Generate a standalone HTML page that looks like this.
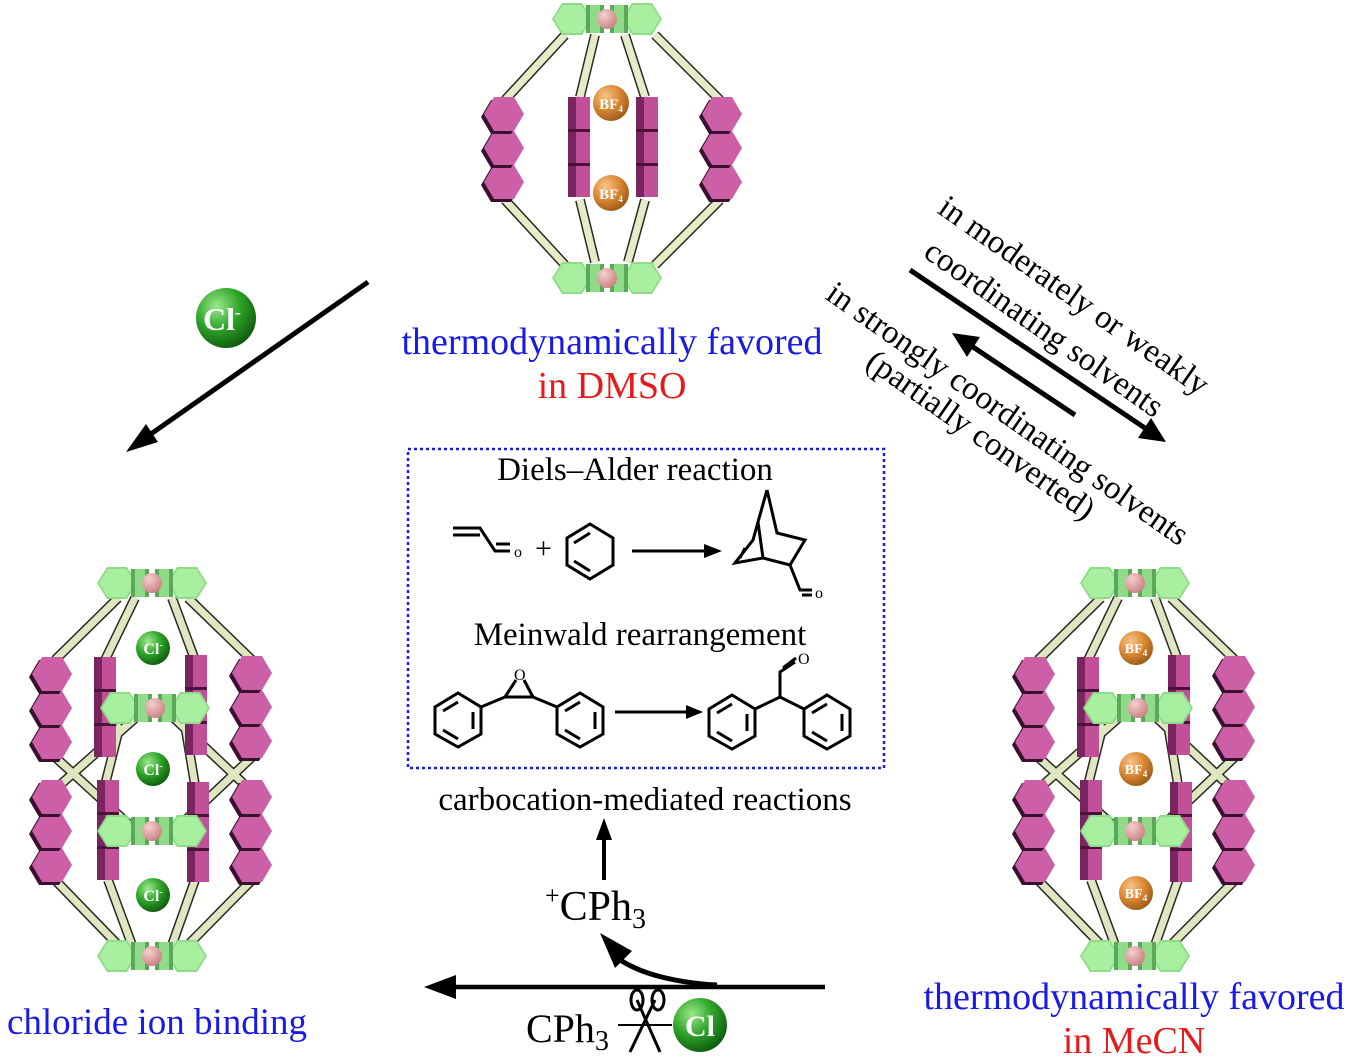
<!DOCTYPE html>
<html><head><meta charset="utf-8"><style>
html,body{margin:0;padding:0;background:#fff;}
svg{display:block;}
text{font-family:"Liberation Serif",serif;}
</style></head><body>
<svg width="1350" height="1060" viewBox="0 0 1350 1060" xmlns="http://www.w3.org/2000/svg">
<defs>
<radialGradient id="gg" cx="35%" cy="30%" r="75%"><stop offset="0" stop-color="#9be88a"/><stop offset="0.5" stop-color="#2fa52a"/><stop offset="1" stop-color="#0d5a0d"/></radialGradient>
<radialGradient id="og" cx="35%" cy="30%" r="75%"><stop offset="0" stop-color="#f7c48a"/><stop offset="0.5" stop-color="#dd8a35"/><stop offset="1" stop-color="#9a5a18"/></radialGradient>
<radialGradient id="pg" cx="35%" cy="30%" r="75%"><stop offset="0" stop-color="#f6d0d0"/><stop offset="1" stop-color="#c98080"/></radialGradient>
<g id="phex"><polygon points="-3,20 7,3 27,3 37,20 27,37 7,37" fill="#3a1030"/><polygon points="0,17 10,0 30,0 40,17 30,34 10,34" fill="#cc5fa5"/></g>
<g id="pcol"><use href="#phex" y="68"/><use href="#phex" y="34"/><use href="#phex" y="0"/></g>
<g id="ncol"><rect x="0" y="0" width="22" height="100" fill="#7a2560"/><rect x="8" y="0" width="14" height="100" fill="#c25098"/><rect x="0" y="32" width="22" height="3" fill="#4a1238"/><rect x="0" y="66" width="22" height="3" fill="#4a1238"/></g>
<g id="ghex"><polygon points="0,16 10,0 30,0 40,16 30,32 10,32" fill="#8fdb8a"/><polygon points="2,16 11,2 29,2 38,16 29,30 11,30" fill="#a8f0a0"/></g>
<g id="grow"><use href="#ghex" x="0"/><use href="#ghex" x="70"/><rect x="34" y="2" width="18" height="28" fill="#5aa85a"/><rect x="58" y="2" width="18" height="28" fill="#5aa85a"/><rect x="38" y="2" width="10" height="28" fill="#8fdb8a"/><rect x="62" y="2" width="10" height="28" fill="#8fdb8a"/><circle cx="55" cy="16" r="10" fill="url(#pg)"/></g>
<g id="cage">
 <g stroke="#2a2a20" stroke-width="10" fill="none">
  <path d="M118,598 L55,660 M188,598 L252,660 M135,598 L105,660 M172,598 L195,660 M55,757 L135,830 M252,757 L175,830 M60,785 L150,705 M245,785 L160,705 M55,880 L118,945 M252,880 L188,945 M108,880 L132,945 M195,880 L172,945 M120,725 L105,785 M185,725 L195,785"/>
 </g>
 <g stroke="#dfe6c2" stroke-width="7" fill="none">
  <path d="M118,598 L55,660 M188,598 L252,660 M135,598 L105,660 M172,598 L195,660 M55,757 L135,830 M252,757 L175,830 M60,785 L150,705 M245,785 L160,705 M55,880 L118,945 M252,880 L188,945 M108,880 L132,945 M195,880 L172,945 M120,725 L105,785 M185,725 L195,785"/>
 </g>
 <use href="#pcol" x="32" y="657"/><use href="#pcol" x="232" y="656"/>
 <use href="#pcol" x="32" y="780"/><use href="#pcol" x="232" y="780"/>
 <use href="#ncol" x="94" y="657"/><use href="#ncol" x="185" y="655"/>
 <use href="#ncol" x="97" y="780"/><use href="#ncol" x="187" y="782"/>
 <use href="#grow" x="97" y="567"/>
 <use href="#grow" x="100" y="692"/>
 <use href="#grow" x="97" y="815"/>
 <use href="#grow" x="97" y="940"/>
</g>
</defs>

<!-- top cage DMSO -->
<g stroke="#2a2a20" stroke-width="10" fill="none"><path d="M565,35 L505,100 M655,35 L720,100 M505,200 L565,265 M720,200 L655,265 M595,35 L580,97 M625,35 L645,97 M580,200 L595,262 M645,200 L628,262"/></g>
<g stroke="#e6ecc8" stroke-width="7" fill="none"><path d="M565,35 L505,100 M655,35 L720,100 M505,200 L565,265 M720,200 L655,265 M595,35 L580,97 M625,35 L645,97 M580,200 L595,262 M645,200 L628,262"/></g>
<use href="#pcol" x="484" y="97"/><use href="#pcol" x="702" y="97"/>
<use href="#ncol" x="568" y="97"/><use href="#ncol" x="636" y="97"/>
<use href="#grow" x="552" y="3"/><use href="#grow" x="552" y="262"/>
<circle cx="611" cy="103" r="18" fill="url(#og)"/><text x="611" y="109" font-size="15" font-weight="bold" fill="#fff" text-anchor="middle">BF<tspan font-size="9" dy="3">4</tspan></text>
<circle cx="611" cy="193" r="18" fill="url(#og)"/><text x="611" y="199" font-size="15" font-weight="bold" fill="#fff" text-anchor="middle">BF<tspan font-size="9" dy="3">4</tspan></text>

<!-- left cage -->
<use href="#cage"/>
<g font-size="16" font-weight="bold" fill="#fff" text-anchor="middle">
<circle cx="153" cy="648" r="17" fill="url(#gg)"/><text x="153" y="654">Cl<tspan font-size="10" dy="-6">-</tspan></text>
<circle cx="153" cy="769" r="17" fill="url(#gg)"/><text x="153" y="775">Cl<tspan font-size="10" dy="-6">-</tspan></text>
<circle cx="153" cy="895" r="17" fill="url(#gg)"/><text x="153" y="901">Cl<tspan font-size="10" dy="-6">-</tspan></text>
</g>
<!-- right cage -->
<use href="#cage" x="983"/>
<g font-size="14" font-weight="bold" fill="#fff" text-anchor="middle">
<circle cx="1136" cy="648" r="17" fill="url(#og)"/><text x="1136" y="653">BF<tspan font-size="9" dy="3">4</tspan></text>
<circle cx="1136" cy="769" r="17" fill="url(#og)"/><text x="1136" y="774">BF<tspan font-size="9" dy="3">4</tspan></text>
<circle cx="1136" cy="893" r="17" fill="url(#og)"/><text x="1136" y="898">BF<tspan font-size="9" dy="3">4</tspan></text>
</g>

<!-- labels -->
<text x="612" y="354" font-size="38" fill="#1a1ae6" text-anchor="middle">thermodynamically favored</text>
<text x="612" y="398" font-size="38" fill="#e61a1a" text-anchor="middle">in DMSO</text>
<text x="157" y="1034" font-size="37" fill="#1a1ae6" text-anchor="middle">chloride ion binding</text>
<text x="1134" y="1009" font-size="38" fill="#1a1ae6" text-anchor="middle">thermodynamically favored</text>
<text x="1134" y="1053" font-size="38" fill="#e61a1a" text-anchor="middle">in MeCN</text>

<!-- left diagonal arrow -->
<line x1="368" y1="282" x2="148" y2="436" stroke="#000" stroke-width="5"/>
<polygon points="126,452 146,424 158,442" fill="#000"/>
<circle cx="226" cy="318" r="30" fill="url(#gg)"/>
<text x="222" y="330" font-size="32" font-weight="bold" fill="#fff" text-anchor="middle">Cl<tspan font-size="18" dy="-12">-</tspan></text>

<!-- right arrows -->
<line x1="910" y1="270" x2="1145" y2="428" stroke="#000" stroke-width="5"/>
<polygon points="1166,442 1138,438 1151,418" fill="#000"/>
<line x1="1075" y1="415" x2="973" y2="347" stroke="#000" stroke-width="5"/>
<polygon points="952,333 980,337 967,357" fill="#000"/>
<g font-size="33" fill="#000">
<text transform="translate(936,212) rotate(35)">in moderately or weakly</text>
<text transform="translate(922,256) rotate(35)">coordinating  solvents</text>
<text transform="translate(824,298) rotate(35)">in strongly coordinating  solvents</text>
<text transform="translate(864,366) rotate(35)">(partially converted)</text>
</g>

<!-- dotted box -->
<rect x="408" y="449" width="476" height="319" fill="none" stroke="#1a1ae6" stroke-width="2.5" stroke-dasharray="3,3"/>
<text x="635" y="480" font-size="33" text-anchor="middle">Diels–Alder reaction</text>
<text x="640" y="645" font-size="33" text-anchor="middle">Meinwald rearrangement</text>
<text x="645" y="810" font-size="33" text-anchor="middle">carbocation-mediated reactions</text>

<g stroke="#000" stroke-width="3" fill="none">
<!-- acrolein -->
<path d="M453,535 L480,535 M453,528 L480,528 L495,551 L510,551 M496,544 L510,544"/>
<!-- cyclohexadiene -->
<polygon points="590,524 613,538 613,565 590,579 567,565 567,538"/>
<path d="M574,543 L590,533 M574,561 L590,571"/>
<line x1="632" y1="551" x2="708" y2="551"/>
<!-- norbornene -->
<path d="M767,490 L758,522 L763,558 M767,490 L777,533 L805,540 L790,565 L763,558 L735,563 L753,540 L758,522 M745,548 L740,558 M790,565 L800,590 L812,590 M802,595 L812,595"/>
<!-- Meinwald -->
<polygon points="458,693 481,707 481,734 458,747 435,734 435,707"/>
<path d="M443,711 L458,702 M473,712 L473,729 M443,730 L458,739"/>
<polygon points="580,693 603,707 603,734 580,747 557,734 557,707"/>
<path d="M565,711 L580,702 M595,712 L595,729 M565,730 L580,739"/>
<path d="M481,707 L505,697 L533,697 L557,707 M505,697 L516,680 M533,697 L524,680"/>
<line x1="615" y1="712" x2="690" y2="712"/>
<polygon points="732,695 755,709 755,736 732,749 709,736 709,709"/>
<path d="M717,713 L732,704 M747,714 L747,731 M717,732 L732,741"/>
<polygon points="827,695 850,709 850,736 827,749 804,736 804,709"/>
<path d="M812,713 L827,704 M842,714 L842,731 M812,732 L827,741"/>
<path d="M755,709 L780,697 L804,709 M780,697 L780,672 L795,662 M783,668 L796,658"/>
</g>
<polygon points="722,551 704,544 704,558" fill="#000"/>
<polygon points="703,712 686,705 686,719" fill="#000"/>
<g font-size="16"><text x="514" y="557">o</text><text x="815" y="598">o</text><text x="514" y="680">O</text><text x="798" y="664">O</text></g>
<text x="535" y="558" font-size="30">+</text>

<!-- bottom -->
<line x1="604" y1="880" x2="604" y2="836" stroke="#000" stroke-width="4"/>
<polygon points="604,818 596,840 612,840" fill="#000"/>
<text x="545" y="920" font-size="42"><tspan font-size="26" dy="-16">+</tspan><tspan dy="16">CPh</tspan><tspan font-size="28" dy="8">3</tspan></text>
<line x1="448" y1="987" x2="825" y2="987" stroke="#000" stroke-width="4.5"/>
<polygon points="424,987 456,975 456,999" fill="#000"/>
<path d="M717,985 C680,983 640,975 616,957" stroke="#000" stroke-width="5" fill="none"/>
<polygon points="600,933 632,951 615,968" fill="#000"/>
<text x="526" y="1042" font-size="40">CPh<tspan font-size="28" dy="8">3</tspan></text>
<line x1="618" y1="1025" x2="672" y2="1025" stroke="#000" stroke-width="2"/>
<g stroke="#000" stroke-width="3" fill="none">
<path d="M630,1052 L655,1000 M660,1052 L637,1000"/>
<ellipse cx="637" cy="1000" rx="6" ry="10"/><ellipse cx="658" cy="1000" rx="6" ry="10"/>
</g>
<circle cx="700" cy="1025" r="27" fill="url(#gg)"/>
<text x="700" y="1036" font-size="30" font-weight="bold" fill="#fff" text-anchor="middle">Cl</text>
</svg>
</body></html>
